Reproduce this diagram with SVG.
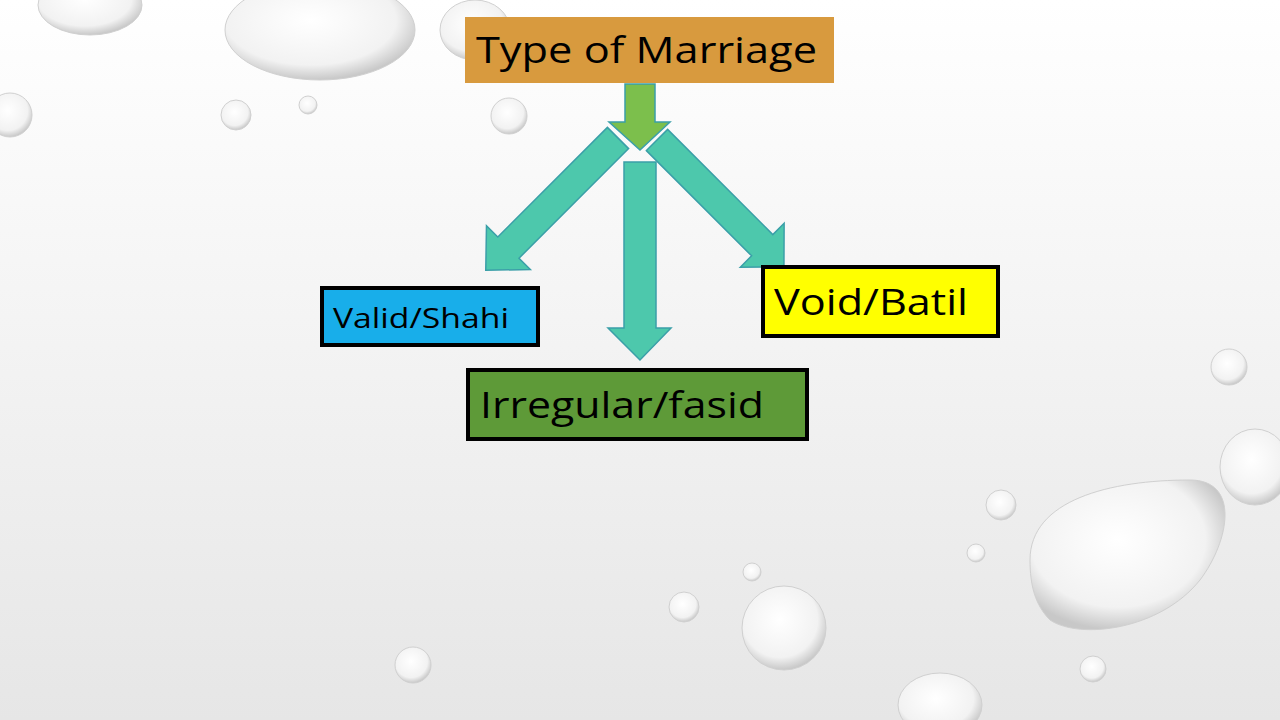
<svg xmlns="http://www.w3.org/2000/svg" width="1280" height="720" viewBox="0 0 1280 720">
<defs>
<linearGradient id="bg" x1="0" y1="0" x2="0" y2="1"><stop offset="0" stop-color="#ffffff"/><stop offset="1" stop-color="#e6e6e6"/></linearGradient>
<radialGradient id="drop" cx="0.45" cy="0.4" r="0.6"><stop offset="0" stop-color="#ffffff"/><stop offset="0.75" stop-color="#f2f2f2"/><stop offset="1" stop-color="#c8c8c8"/></radialGradient>
<path id="arr" d="M-15,0 L15,0 L15,155 L31,155 L0,187 L-31,155 L-15,155 Z"/>
</defs>
<style>
.box{stroke:#000;stroke-width:4}
.t{font-family:"Open Sans","Noto Sans",sans-serif;fill:#000}
.drop{fill:url(#drop);stroke:#d0d0d0;stroke-width:1}
.teal{fill:#4DC8AC;stroke:#3A9FA8;stroke-width:1.5}
</style>
<rect width="1280" height="720" fill="url(#bg)"/>
<g id="drops">
<ellipse class="drop" cx="90" cy="5" rx="52" ry="30"/>
<ellipse class="drop" cx="320" cy="30" rx="95" ry="50"/>
<ellipse class="drop" cx="475" cy="30" rx="35" ry="30"/>
<circle class="drop" cx="10" cy="115" r="22"/>
<circle class="drop" cx="236" cy="115" r="15"/>
<circle class="drop" cx="308" cy="105" r="9"/>
<circle class="drop" cx="509" cy="116" r="18"/>
<circle class="drop" cx="1229" cy="367" r="18"/>
<ellipse class="drop" cx="1255" cy="467" rx="35" ry="38"/>
<circle class="drop" cx="1001" cy="505" r="15"/>
<circle class="drop" cx="976" cy="553" r="9"/>
<path class="drop" d="M1030,560 C1030,500 1110,480 1190,480 C1240,480 1230,540 1200,580 C1160,630 1080,640 1050,620 C1035,605 1030,585 1030,560 Z"/>
<circle class="drop" cx="752" cy="572" r="9"/>
<circle class="drop" cx="684" cy="607" r="15"/>
<circle class="drop" cx="784" cy="628" r="42"/>
<circle class="drop" cx="413" cy="665" r="18"/>
<circle class="drop" cx="1093" cy="669" r="13"/>
<ellipse class="drop" cx="940" cy="705" rx="42" ry="32"/>
</g>
<g id="connectors">
<path d="M625,84 L655,84 L655,122 L670,122 L640,150 L609,122 L625,122 Z" fill="#7CBF4C" stroke="#3A9FA8" stroke-width="1.5"/>
<use href="#arr" class="teal" transform="translate(618,138) rotate(45)"/>
<use href="#arr" class="teal" transform="translate(657,140) rotate(-45) scale(1,0.96)"/>
<path class="teal" d="M624,162 L656,162 L656,328 L671,328 L640,360 L608,328 L624,328 Z"/>
</g>
<g id="title">
<rect x="465" y="17" width="369" height="66" fill="#D89A3E"/>
<text class="t" x="476" y="63" font-size="36" textLength="341" lengthAdjust="spacingAndGlyphs">Type of Marriage</text>
</g>
<g id="valid">
<rect class="box" x="322" y="288" width="216" height="57" fill="#18AEEA"/>
<text class="t" x="333" y="328" font-size="28" textLength="176" lengthAdjust="spacingAndGlyphs">Valid/Shahi</text>
</g>
<g id="void">
<rect class="box" x="763" y="267" width="235" height="69" fill="#FFFF00"/>
<text class="t" x="774" y="315" font-size="36" textLength="194" lengthAdjust="spacingAndGlyphs">Void/Batil</text>
</g>
<g id="irregular">
<rect class="box" x="468" y="370" width="339" height="69" fill="#5E9A38"/>
<text class="t" x="480" y="418" font-size="36" textLength="284" lengthAdjust="spacingAndGlyphs">Irregular/fasid</text>
</g>
</svg>
